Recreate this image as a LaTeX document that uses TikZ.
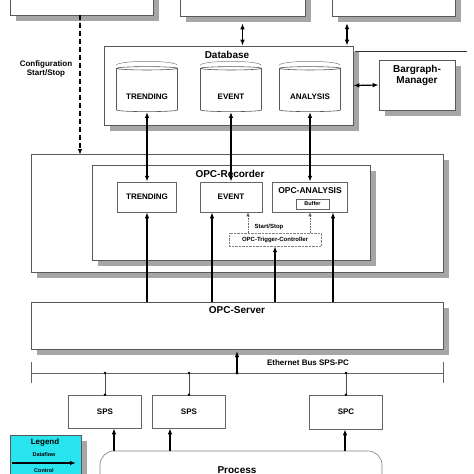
\documentclass[tikz,border=0pt]{standalone}
\usepackage{fontspec}
\setmainfont{Liberation Sans}
\usetikzlibrary{arrows.meta,shapes.geometric,shadows}
\definecolor{legcyan}{RGB}{40,228,238}

\begin{document}
\begin{tikzpicture}[x=1pt, y=-1pt,
    font=\bfseries\fontsize{8}{9}\selectfont,
    panel/.style={draw=black!65, fill=white, line width=0.6pt,
      general shadow={fill=black!35, shadow xshift=6pt, shadow yshift=-6pt}},
    plainbox/.style={draw=black!60, fill=white, line width=0.5pt, inner sep=0pt},
    dbcyl/.style={cylinder, shape border rotate=90, aspect=0.5, draw=black!65,
      fill=white, line width=0.6pt, minimum width=61pt, minimum height=45pt},
    title/.style={font=\bfseries\fontsize{10}{11}\selectfont},
    tiny/.style={font=\bfseries\fontsize{5.5}{6}\selectfont},
    tip/.style={-{Latex[length=6pt,width=4.5pt]}},
    flow/.style={line width=1.2pt, tip},
    both/.style={line width=1.2pt, {Latex[length=6pt,width=4.5pt]}-{Latex[length=6pt,width=4.5pt]}},
    ctrl/.style={densely dotted, black!60, line width=0.6pt, -{Latex[length=4pt,width=3.5pt]}}]

    \clip (0,0) rectangle (474,474);
    \fill[white] (0,0) rectangle (474,474);

    % upper applications
    \node[panel, minimum width=143pt, minimum height=40pt] (topL) at (81.5,-5) {};
    \node[panel, minimum width=125pt, minimum height=40pt] (topM) at (242.5,-4) {};
    \node[panel, minimum width=123pt, minimum height=40pt] (topR) at (393.5,-4) {};
    \draw[black!80, line width=0.8pt] (355,51) -- (467,51);

    % database
    \node[panel, minimum width=249pt, minimum height=79pt] (db) at (228.5,85.5) {};
    \node[title] (dbT) at (227,55) {Database};
    \node[dbcyl, label={[yshift=-6pt]center:TRENDING}] (cTrend) at (147,90.5) {};
    \node[dbcyl, label={[yshift=-6pt]center:EVENT}] (cEvent) at (231,90.5) {};
    \node[dbcyl, label={[yshift=-6pt]center:ANALYSIS}] (cAna) at (310,90.5) {};
    \foreach \c in {cTrend,cEvent,cAna}
      \draw[black!50, line width=0.5pt] (\c.before top) ++(0,-3) arc[start angle=180, end angle=360, x radius=30.5, y radius=4];

    \node[panel, minimum width=76pt, minimum height=50pt] (bar) at (417,85) {};
    \node[title, align=center] (barT) at (417,75) {Bargraph-\\Manager};

    \draw[both] (topM.south) ++(0,7) -- (db.north -| topM.south);
    \draw[both] (347,23) -- (db.north -| 347,0);
    \draw[both] (db.east) -- (bar.west);

    % configuration
    \node[align=center] (cfg) at (46,69) {Configuration\\Start/Stop};
    \draw[line width=1.2pt, dash pattern=on 5pt off 3pt, tip]
      (topL.south -| 80,0) -- (80,155);

    % recorder
    \node[panel, minimum width=412pt, minimum height=118pt] (sys) at (237,213) {};
    \node[panel, minimum width=278pt, minimum height=95pt] (rec) at (231,212.5) {};
    \node[title] (recT) at (230,174) {OPC-Recorder};
    \node[plainbox, minimum width=59pt, minimum height=30pt] (trendBox) at (147,197) {TRENDING};
    \node[plainbox, minimum width=62pt, minimum height=30pt] (evBox) at (231,197) {EVENT};
    \node[plainbox, minimum width=75pt, minimum height=30pt] (anaBox) at (310,197) {};
    \node[font=\bfseries\fontsize{8.5}{9}\selectfont] (anaT) at (310,191) {OPC-ANALYSIS};
    \node[plainbox, minimum width=33pt, minimum height=10pt, tiny] (buf) at (312.5,204) {Buffer};
    \node[draw=black!50, densely dotted, minimum width=92pt, minimum height=13pt,
      inner sep=0pt, font=\bfseries\fontsize{6}{6}\selectfont] (trig) at (275,239.5) {OPC-Trigger-Controller};
    \node[font=\bfseries\fontsize{6}{6}\selectfont] (ssT) at (269,227) {Start/Stop};

    \draw[both] (cTrend.south) -- (trendBox.north);
    \draw[both] (cEvent.south) -- (evBox.north);
    \draw[both] (cAna.south) -- (anaBox.north);
    \draw[ctrl] (trig.north -| 248,0) -- (evBox.south -| 248,0);
    \draw[ctrl] (trig.north -| 310,0) -- (anaBox.south -| 310,0);

    % server
    \node[panel, minimum width=412pt, minimum height=47pt] (srv) at (237,325.5) {};
    \node[title] (srvT) at (237,310) {OPC-Server};
    \draw[flow] (srv.north -| trendBox.south) -- (trendBox.south);
    \draw[flow] (srv.north -| 212,0) -- (evBox.south -| 212,0);
    \draw[flow] (srv.north -| trig.south) -- (trig.south);
    \draw[flow] (srv.north -| 333,0) -- (anaBox.south -| 333,0);

    % bus
    \coordinate (busL) at (31,373);
    \coordinate (busR) at (443,373);
    \coordinate (busM) at (237,373);
    \draw[black!60, line width=0.7pt] (busL) -- (busR);
    \draw[black!60, line width=0.7pt] (31,362) -- (31,383);
    \draw[black!60, line width=0.7pt] (443,362) -- (443,383);
    \node (busT) at (308,363) {Ethernet Bus SPS-PC};
    \fill (busM) circle (1.6);
    \draw[flow] (busM) -- (srv.south |- 0,351);

    \node[plainbox, minimum width=73pt, minimum height=33pt] (sps1) at (105,411.5) {SPS};
    \node[plainbox, minimum width=73pt, minimum height=33pt] (sps2) at (189,411.5) {SPS};
    \node[plainbox, minimum width=73pt, minimum height=34pt] (spc) at (346,412) {SPC};
    \foreach \n in {sps1,sps2,spc} {
      \draw[black!70, line width=0.8pt] (\n.north |- busL) -- (\n.north);
      \fill (\n.north |- busL) circle (1.4);
      \fill (\n.north) circle (1.4);
    }

    % process
    \node[draw=black!50, fill=white, line width=0.6pt, rounded corners=14pt,
      minimum width=282pt, minimum height=48pt] (proc) at (241,475) {};
    \node[title] (procT) at (237,470) {Process};
    \draw[flow] (proc.north -| 114,0) -- (sps1.south -| 114,0);
    \draw[flow] (proc.north -| 170,0) -- (sps2.south -| 170,0);
    \draw[flow] (proc.north -| 345,0) -- (spc.south -| 345,0);

    % legend
    \node[panel, fill=legcyan, minimum width=71pt, minimum height=55pt] (leg) at (45.5,462.5) {};
    \node (legT) at (45,442) {Legend};
    \node[tiny] (dfT) at (44,455) {Dataflow};
    \coordinate (dfA) at (12,463);
    \coordinate (dfB) at (76,463);
    \draw[flow] (dfA) -- (dfB);
    \node[tiny] (ctT) at (44,471) {Control};

\end{tikzpicture}
\end{document}
